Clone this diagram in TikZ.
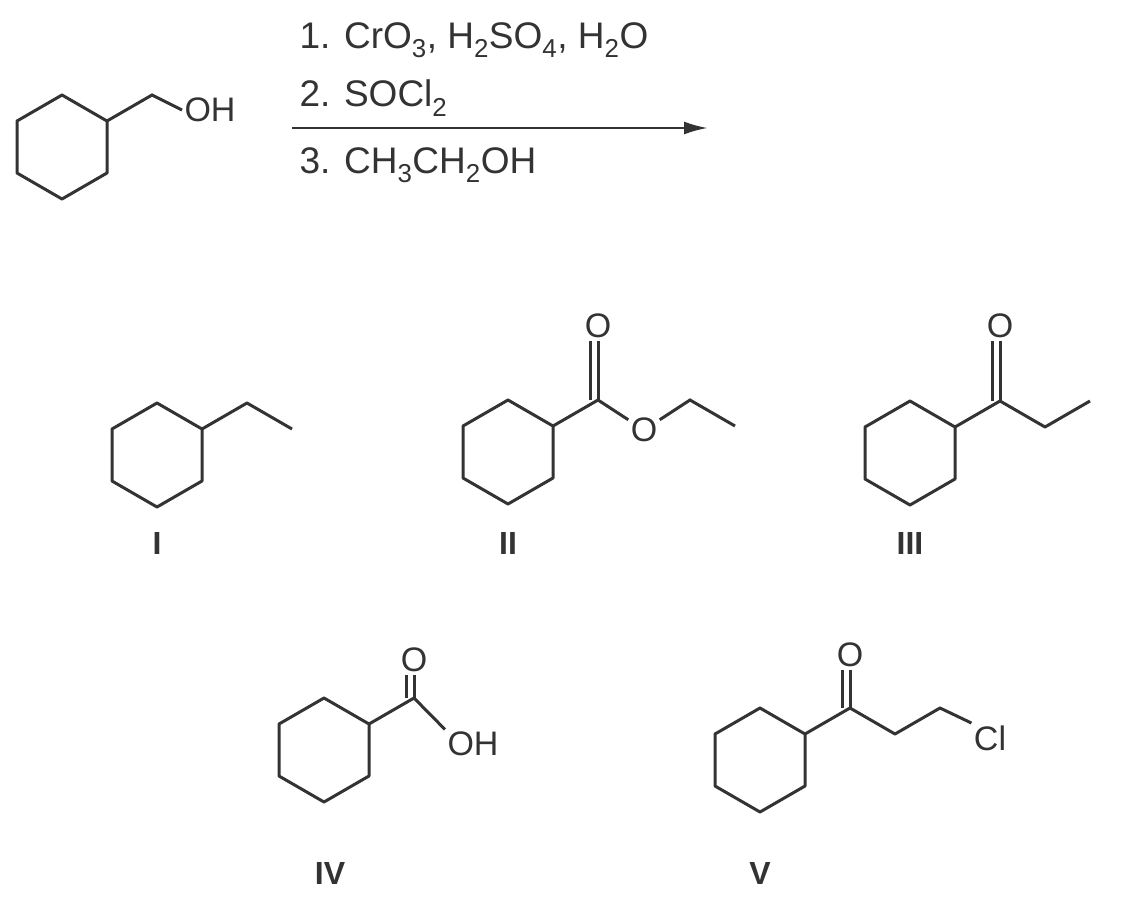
\documentclass[tikz,border=0pt]{standalone}
\usepackage{fontspec}
\setmainfont{Liberation Sans}
\usetikzlibrary{arrows.meta}
\begin{document}
\begin{tikzpicture}[x=1pt,y=-1pt,line width=3pt,color={black!80},
  atom/.style={inner sep=1pt,font=\fontsize{34}{38}\selectfont},
  reag/.style={anchor=west,inner sep=0pt,font=\fontsize{37}{40}\selectfont},
  lbl/.style={inner sep=0pt,font=\fontsize{32}{36}\selectfont\bfseries},
  ring/.style={line join=round}]
\useasboundingbox (0,0) rectangle (1124,914);
\fill[white] (0,0) rectangle (1124,914);
% starting material
\draw[ring] (62,95) -- (17,121) -- (17,173) -- (62,199) -- (107,173) -- (107,121) -- cycle;
\coordinate (s1) at (107,121);
\coordinate (s2) at (152,95);
\node[atom] (sOH) at (210,110) {OH};
\draw (s1) -- (s2) -- (sOH.west);
% arrow
\coordinate (a1) at (292,128);
\coordinate (a2) at (708,128);
\draw[-{Latex[length=24pt,width=13pt]}, line width=2.6pt] (a1) -- (a2);
\node[reag] (r1) at (298,40) {1. CrO\textsubscript{3}, H\textsubscript{2}SO\textsubscript{4}, H\textsubscript{2}O};
\node[reag] (r2) at (298,98) {2. SOCl\textsubscript{2}};
\node[reag] (r3) at (298,165) {3. CH\textsubscript{3}CH\textsubscript{2}OH};
% I
\draw[ring] (157,403) -- (112,429) -- (112,481) -- (157,507) -- (202,481) -- (202,429) -- cycle;
\coordinate (i1) at (202,429);
\coordinate (i2) at (247,403);
\coordinate (i3) at (292,429);
\draw[line join=round] (i1) -- (i2) -- (i3);
\node[lbl] (L1) at (157,543) {I};
% II
\draw[ring] (508,400) -- (463,426) -- (463,478) -- (508,504) -- (553,478) -- (553,426) -- cycle;
\coordinate (ii1) at (553,426);
\coordinate (ii2) at (598,400);
\node[atom] (iiO) at (598,326) {O};
\node[atom] (iiOe) at (644,430) {O};
\coordinate (ii4) at (690,400);
\coordinate (ii5) at (735,426);
\draw (ii1) -- (ii2) -- (iiOe);
\draw (iiOe) -- (ii4) -- (ii5);
\draw (ii2) -- (iiO.south -| ii2);
\draw ([xshift=-8pt]ii2) -- ([xshift=-8pt]iiO.south -| ii2);
\node[lbl] (L2) at (508,543) {II};
% III
\draw[ring] (910,401) -- (865,427) -- (865,479) -- (910,505) -- (955,479) -- (955,427) -- cycle;
\coordinate (iii1) at (955,427);
\coordinate (iii2) at (1000,401);
\node[atom] (iiiO) at (1000,326) {O};
\coordinate (iii3) at (1045,427);
\coordinate (iii4) at (1090,401);
\draw[line join=round] (iii1) -- (iii2) -- (iii3) -- (iii4);
\draw (iii2) -- (iiiO.south -| iii2);
\draw ([xshift=-8pt]iii2) -- ([xshift=-8pt]iiiO.south -| iii2);
\node[lbl] (L3) at (910,543) {III};
% IV
\draw[ring] (324,698) -- (279,724) -- (279,776) -- (324,802) -- (369,776) -- (369,724) -- cycle;
\coordinate (iv1) at (369,724);
\coordinate (iv2) at (414,698);
\node[atom] (ivO) at (414,660) {O};
\node[atom] (ivOH) at (473,744) {OH};
\draw (iv1) -- (iv2) -- (ivOH.north west);
\draw (iv2) -- (ivO.south -| iv2);
\draw ([xshift=-8pt]iv2) -- ([xshift=-8pt]ivO.south -| iv2);
\node[lbl] (L4) at (330,873) {IV};
% V
\draw[ring] (760,708) -- (715,734) -- (715,786) -- (760,812) -- (805,786) -- (805,734) -- cycle;
\coordinate (v1) at (805,734);
\coordinate (v2) at (850,708);
\node[atom] (vO) at (850,655) {O};
\coordinate (v3) at (895,734);
\coordinate (v4) at (940,708);
\node[atom] (vCl) at (990,738) {Cl};
\draw[line join=round] (v1) -- (v2) -- (v3) -- (v4) -- (vCl.north west);
\draw (v2) -- (vO.south -| v2);
\draw ([xshift=-8pt]v2) -- ([xshift=-8pt]vO.south -| v2);
\node[lbl] (L5) at (760,873) {V};
\end{tikzpicture}
\end{document}
